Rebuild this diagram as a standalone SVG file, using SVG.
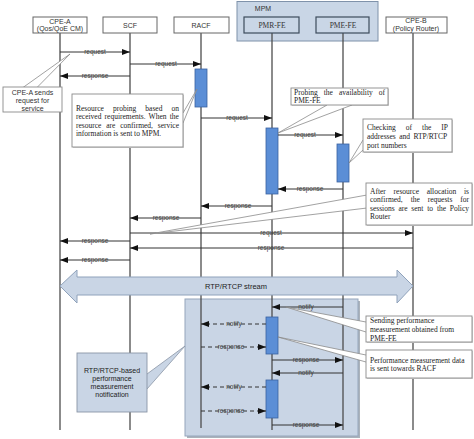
<svg xmlns="http://www.w3.org/2000/svg" width="474" height="439" viewBox="0 0 474 439">
<defs>
<marker id="ah" viewBox="0 0 8 6" refX="8" refY="3" markerWidth="8" markerHeight="6" markerUnits="userSpaceOnUse" orient="auto">
<path d="M0,0 L8,3 L0,6 Z" fill="#111"/>
</marker>
</defs>
<style>
.life{stroke:#4d4d4d;stroke-width:1.3;fill:none}
.hdr{fill:#fff;stroke:#666;stroke-width:1}
.hdrb{fill:#c9d6e6;stroke:#3d4b5c;stroke-width:1.2}
.ht{font-family:"Liberation Sans",Arial,sans-serif;font-size:7px;fill:#333;text-anchor:middle}
.hs{font-family:"Liberation Serif","Times New Roman",serif;font-size:7.5px;fill:#333;text-anchor:middle}
.msg{stroke:#333;stroke-width:1;fill:none;marker-end:url(#ah)}
.dash{stroke-dasharray:4,3}
.ml{font-family:"Liberation Sans",Arial,sans-serif;font-size:6.5px;fill:#444;text-anchor:middle}
.bar{fill:#5b8ed6;stroke:#3a62a0;stroke-width:0.8}
.note{fill:#fff;stroke:#8a8a8a;stroke-width:0.9}
.nshadow{fill:#d4d4d4}
.wedge{fill:#fff;stroke:#8a8a8a;stroke-width:0.8}
.nt{font-family:"Liberation Serif","Times New Roman",serif;font-size:7.5px;fill:#222}
.st{font-family:"Liberation Sans",Arial,sans-serif;font-size:7px;fill:#333;text-anchor:middle}
.blue{fill:#c9d5e5;stroke:#95a6bc;stroke-width:1}
</style>

<!-- MPM group background -->
<g id="mpm">
<rect x="237" y="1.5" width="141" height="39.5" fill="#c9d6e6" stroke="#7f92aa" stroke-width="1"/>
<text x="263" y="11" class="ht">MPM</text>
</g>

<!-- performance measurement region -->
<g id="pm-region">
<rect x="187" y="301" width="173" height="137" fill="#aab2bb"/>
<rect x="185" y="299" width="173" height="137" class="blue"/>
</g>

<!-- lifelines -->
<g id="lifelines">
<line x1="60" y1="33" x2="60" y2="430" class="life"/>
<line x1="130" y1="33" x2="130" y2="430" class="life"/>
<line x1="201" y1="33" x2="201" y2="428" class="life"/>
<line x1="272" y1="33" x2="272" y2="430" class="life"/>
<line x1="343" y1="33" x2="343" y2="430" class="life"/>
<line x1="413" y1="33" x2="413" y2="430" class="life"/>
</g>

<g id="cpe-a">
<rect x="33" y="17" width="54" height="16" class="hdr"/>
<text x="60" y="23.5" class="ht">CPE-A</text>
<text x="60" y="30.5" class="ht">(Qos/QoE CM)</text>
</g>
<g id="scf">
<rect x="103" y="17" width="54" height="16" class="hdr"/>
<text x="130" y="27.5" class="ht">SCF</text>
</g>
<g id="racf">
<rect x="174" y="17" width="55" height="16" class="hdr"/>
<text x="201" y="27.5" class="ht">RACF</text>
</g>
<g id="pmr-fe">
<rect x="244" y="17" width="55" height="16" class="hdrb"/>
<text x="272" y="27.5" class="hs">PMR-FE</text>
</g>
<g id="pme-fe">
<rect x="316" y="17" width="53" height="16" class="hdrb"/>
<text x="343" y="27.5" class="hs">PME-FE</text>
</g>
<g id="cpe-b">
<rect x="386" y="17" width="61" height="16" class="hdr"/>
<text x="416" y="23" class="ht">CPE-B</text>
<text x="416" y="30.5" class="ht">(Policy Router)</text>
</g>

<!-- RTP/RTCP stream -->
<g id="rtp-stream">
<polygon points="60,286 77,270 77,277 397,277 397,270 413,286 397,303 397,295 77,295 77,303" fill="#c9d5e5" stroke="#8fa2bb" stroke-width="1"/>
<text x="236" y="289" class="ht" style="font-size:7.5px;fill:#222">RTP/RTCP stream</text>
</g>

<!-- activation bars -->
<g id="activations">
<rect x="195" y="69" width="12" height="38" class="bar"/>
<rect x="266" y="128" width="12" height="66" class="bar"/>
<rect x="337" y="144" width="12" height="38" class="bar"/>
<rect x="266" y="317" width="12" height="37" class="bar"/>
<rect x="266" y="380" width="12" height="38" class="bar"/>
</g>

<!-- connectors -->
<g id="connectors">
<line x1="60" y1="52" x2="130" y2="52" class="msg"/>
<text x="95" y="54.3" class="ml">request</text>
<line x1="130" y1="64" x2="201" y2="64" class="msg"/>
<text x="166" y="66.3" class="ml">request</text>
<line x1="130" y1="76" x2="60" y2="76" class="msg"/>
<text x="95" y="78.3" class="ml">response</text>
<line x1="201" y1="118" x2="272" y2="118" class="msg"/>
<text x="237" y="120.3" class="ml">request</text>
<line x1="278" y1="135" x2="343" y2="135" class="msg"/>
<text x="305" y="137.3" class="ml">request</text>
<line x1="343" y1="189" x2="278" y2="189" class="msg"/>
<text x="310" y="191.3" class="ml">response</text>
<line x1="272" y1="206" x2="201" y2="206" class="msg"/>
<text x="238" y="208.3" class="ml">response</text>
<line x1="201" y1="218" x2="130" y2="218" class="msg"/>
<text x="166" y="220.3" class="ml">response</text>
<line x1="130" y1="233" x2="413" y2="233" class="msg"/>
<text x="271" y="235.3" class="ml">request</text>
<line x1="130" y1="241" x2="60" y2="241" class="msg"/>
<text x="95" y="243.3" class="ml">response</text>
<line x1="413" y1="248" x2="130" y2="248" class="msg"/>
<text x="271" y="250.3" class="ml">response</text>
<line x1="130" y1="260" x2="60" y2="260" class="msg"/>
<text x="95" y="262.3" class="ml">response</text>

<line x1="343" y1="307" x2="272" y2="307" class="msg"/>
<text x="306" y="309.3" class="ml">notify</text>
<line x1="266" y1="324" x2="201" y2="324" class="msg dash"/>
<text x="234" y="326.3" class="ml">notify</text>
<line x1="201" y1="347" x2="266" y2="347" class="msg dash"/>
<text x="231" y="349.3" class="ml">response</text>
<line x1="272" y1="360" x2="343" y2="360" class="msg"/>
<text x="306" y="362.3" class="ml">response</text>
<line x1="343" y1="373" x2="272" y2="373" class="msg"/>
<text x="306" y="375.3" class="ml">notify</text>
<line x1="266" y1="387" x2="201" y2="387" class="msg dash"/>
<text x="234" y="389.3" class="ml">notify</text>
<line x1="201" y1="411" x2="266" y2="411" class="msg dash"/>
<text x="231" y="413.3" class="ml">response</text>
<line x1="272" y1="425" x2="343" y2="425" class="msg"/>
<text x="306" y="427.3" class="ml">response</text>
</g>

<!-- notes -->
<g id="note-cpea">
<path d="M23,87.5 L70,54 L37,87.5" class="wedge"/>
<rect x="3" y="87" width="59" height="25" class="note"/>
<text x="32.5" y="94.5" class="st">CPE-A sends</text>
<text x="32.5" y="102.5" class="st">request for</text>
<text x="32.5" y="110.5" class="st">service</text>
</g>

<g id="note-racf">
<rect x="73" y="95" width="111" height="53" class="nshadow"/>
<path d="M183,113 L197,89 L183,123" class="wedge"/>
<rect x="72" y="94" width="111" height="53" class="note"/>
<text x="76" y="110.5" class="nt" word-spacing="7.19">Resource probing based on</text>
<text x="76" y="119" class="nt" word-spacing="1.29">received requirements. When the</text>
<text x="76" y="127.7" class="nt" word-spacing="2.96">resource are confirmed, service</text>
<text x="76" y="136.4" class="nt">information is sent to MPM.</text>
</g>

<g id="note-probe">
<rect x="292" y="89" width="97" height="17" class="nshadow"/>
<path d="M327,105 L278,133 L352,105" class="wedge"/>
<rect x="291" y="88" width="97" height="17" class="note"/>
<text x="294" y="95" class="nt" word-spacing="4.16">Probing the availability of</text>
<text x="294" y="103" class="nt">PME-FE</text>
</g>

<g id="note-check">
<rect x="364" y="120" width="89" height="33" class="nshadow"/>
<path d="M363,140 L349,163 L363,150" class="wedge"/>
<rect x="363" y="119" width="89" height="33" class="note"/>
<text x="367" y="129.5" class="nt" word-spacing="8.19">Checking of the IP</text>
<text x="367" y="138.7" class="nt" word-spacing="1.53">addresses and RTP/RTCP</text>
<text x="367" y="147.9" class="nt">port numbers</text>
</g>

<g id="note-after">
<rect x="367" y="184" width="106" height="42" class="nshadow"/>
<path d="M367,195 L150,234 L367,208" class="wedge"/>
<rect x="366" y="183" width="106" height="42" class="note"/>
<text x="370" y="193.8" class="nt" word-spacing="5.86">After resource allocation is</text>
<text x="370" y="202.3" class="nt" word-spacing="6.06">confirmed, the requests for</text>
<text x="370" y="210.8" class="nt" word-spacing="1.93">sessions are sent to the Policy</text>
<text x="370" y="219.3" class="nt">Router</text>
</g>

<g id="note-sending">
<rect x="367" y="317" width="106" height="26" class="nshadow"/>
<path d="M366,322 L286,307 L366,332" class="wedge"/>
<rect x="366" y="316" width="106" height="26" class="note"/>
<text x="370" y="322.5" class="nt">Sending performance</text>
<text x="370" y="331.5" class="nt">measurement obtained from</text>
<text x="370" y="340.5" class="nt">PME-FE</text>
</g>

<g id="note-perf">
<rect x="367" y="351" width="106" height="28" class="nshadow"/>
<path d="M366,355 L278,337 L366,362" class="wedge"/>
<rect x="366" y="350" width="106" height="28" class="note"/>
<text x="370" y="362.5" class="nt">Performance measurement data</text>
<text x="370" y="371" class="nt">is sent towards RACF</text>
</g>

<g id="note-rtp">
<path d="M147,374 L185,346 L147,389" fill="#c9d5e5" stroke="#8a96a6" stroke-width="0.8"/>
<rect x="77" y="353" width="70" height="59" fill="#c9d5e5" stroke="#8a96a6" stroke-width="0.9"/>
<text x="112" y="373" class="st" style="fill:#222">RTP/RTCP-based</text>
<text x="112" y="381" class="st" style="fill:#222">performance</text>
<text x="112" y="389" class="st" style="fill:#222">measurement</text>
<text x="112" y="397" class="st" style="fill:#222">notification</text>
</g>
</svg>
